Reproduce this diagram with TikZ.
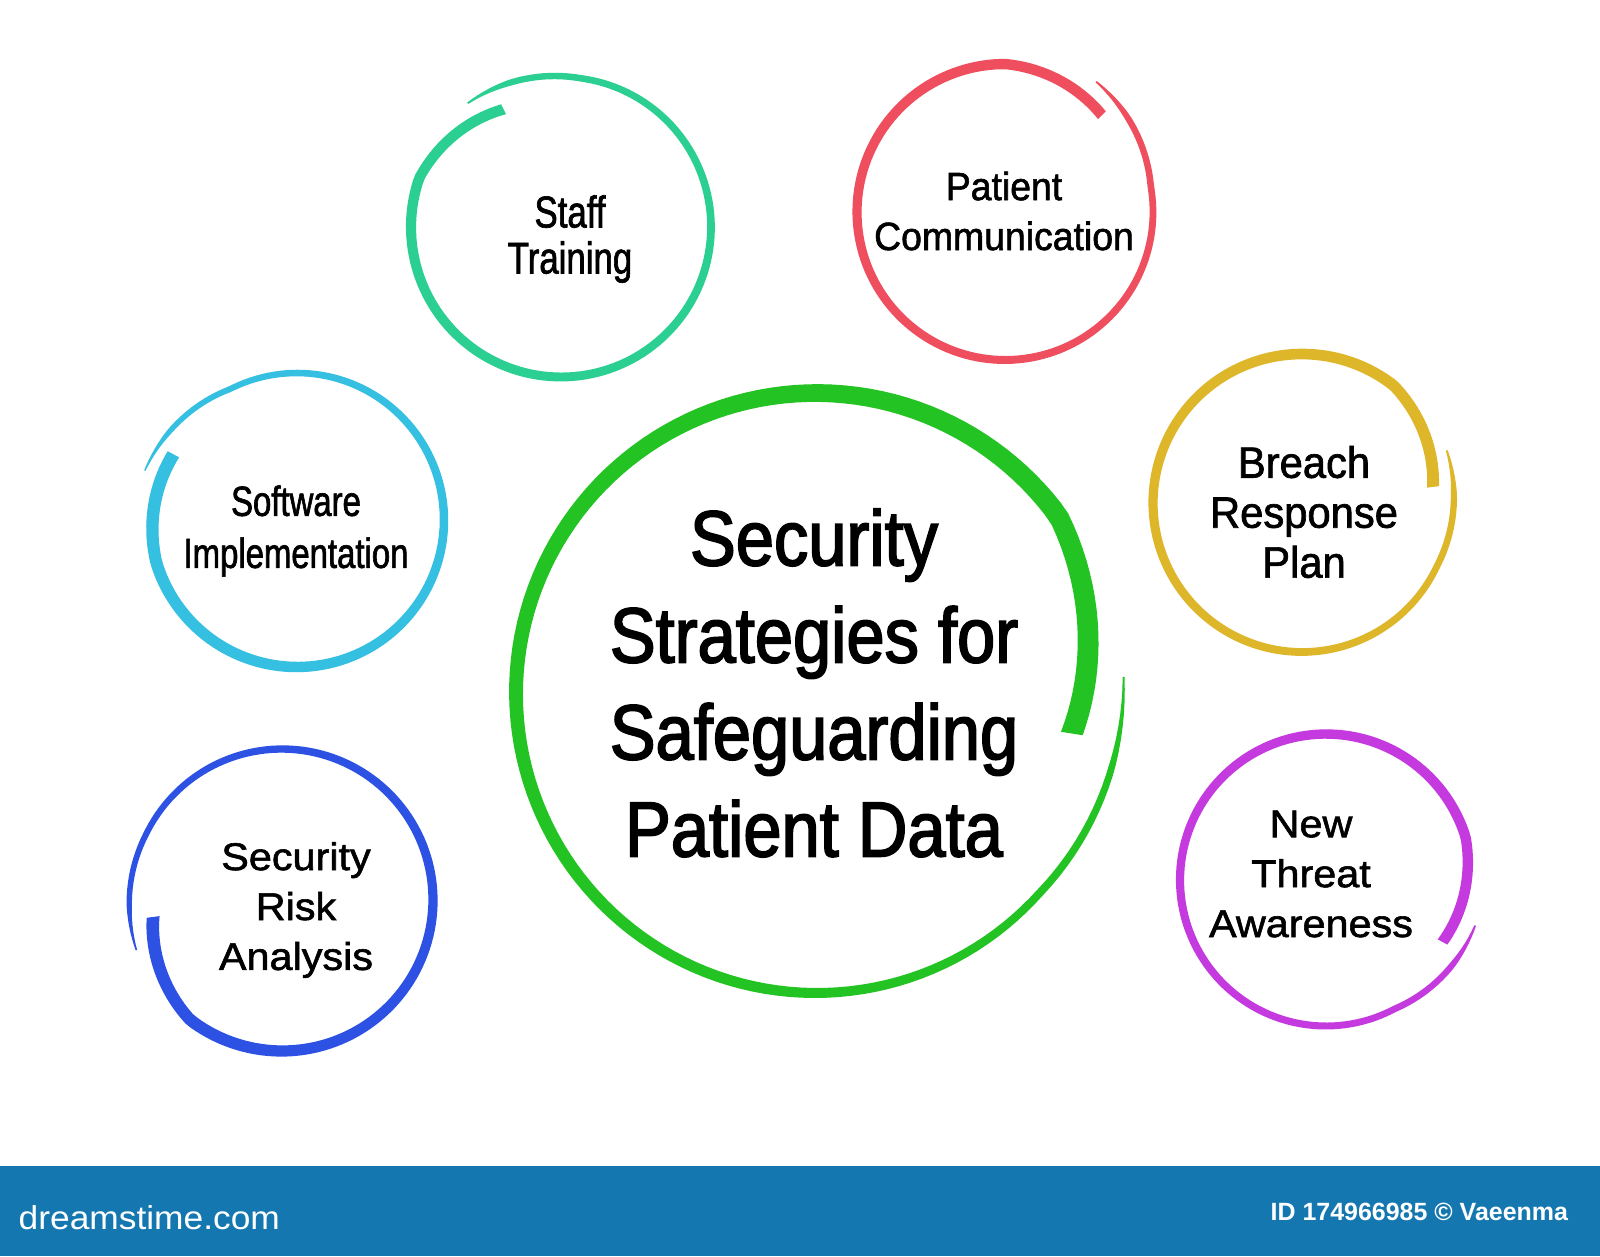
\documentclass[tikz,border=0pt]{standalone}
\usepackage{fontspec}
\setmainfont{Liberation Sans}
\newfontfamily\ssnarrow[FakeStretch=0.78, FakeBold=1.5]{Liberation Sans}
\newfontfamily\sstitlefont[FakeStretch=0.88, FakeBold=2.2]{Liberation Sans}
\newfontfamily\ssplain[FakeStretch=0.95, FakeBold=1.5]{Liberation Sans}
\newfontfamily\sswide[FakeStretch=1.07, FakeBold=1.5]{Liberation Sans}
\newfontfamily\sslogo[FakeStretch=1.07]{Liberation Sans}
\definecolor{ssGreen}{HTML}{22C322}
\definecolor{ssTeal}{HTML}{2BCF92}
\definecolor{ssRed}{HTML}{EE4E5E}
\definecolor{ssCyan}{HTML}{35C0E2}
\definecolor{ssGold}{HTML}{DDB62A}
\definecolor{ssBlue}{HTML}{2D52E3}
\definecolor{ssMagenta}{HTML}{C43ADF}
\definecolor{ssBar}{HTML}{1477B0}
\tikzset{
  ring radius/.store in=\ssR,
  ring start/.store in=\ssA,
  ring lap/.store in=\ssLap,
  ring out/.store in=\ssOut,
  ring in/.store in=\ssIn,
  ring width/.code 2 args={\def\ssWa{#1}\def\ssWb{#2}},
  declare function={
    ssrad(\x)=\ssR+\ssOut*max(0,1-\x/45)-\ssIn*max(0,1-(\ssL-\x)/45);
    sswid(\x)=(\ssWa+(\ssWb-\ssWa)*\x/\ssL)*min(1,0.3+\x/25);
  },
  ssring/.pic={
    \pgfmathsetmacro\ssL{360+\ssLap}
    \fill[pic actions] plot[domain=0:\ssL, samples=160]
        ({(ssrad(\x)+sswid(\x)/2)*cos(\ssA-\x)}, {(ssrad(\x)+sswid(\x)/2)*sin(\ssA-\x)})
      -- plot[domain=\ssL:0, samples=160]
        ({(ssrad(\x)-sswid(\x)/2)*cos(\ssA-\x)}, {(ssrad(\x)-sswid(\x)/2)*sin(\ssA-\x)})
      -- cycle;
  },
  sslabel/.style={align=center, inner sep=0pt, text=black},
  ssbrand/.style={anchor=base west, inner sep=0pt, text=white}
}

\begin{document}
\begin{tikzpicture}
  \fill[white] (0,0) rectangle (16,-12.56);
  \useasboundingbox (0,0) rectangle (16,-12.56);

  \pic[fill=ssGreen, ring radius=3.00, ring start=3, ring lap=12, ring out=0.08, ring in=0.41, ring width={0.06}{0.22}] at (8.16,-6.93) {ssring};
  \pic[fill=ssTeal, ring radius=1.50, ring start=127, ring lap=11, ring out=0.05, ring in=0.19, ring width={0.06}{0.11}] at (5.61,-2.27) {ssring};
  \pic[fill=ssRed, ring radius=1.48, ring start=55, ring lap=10, ring out=0.11, ring in=0.11, ring width={0.06}{0.11}] at (10.05,-2.12) {ssring};
  \pic[fill=ssCyan, ring radius=1.47, ring start=162, ring lap=10, ring out=0.13, ring in=0.07, ring width={0.05}{0.13}] at (2.97,-5.20) {ssring};
  \pic[fill=ssGold, ring radius=1.49, ring start=20, ring lap=13, ring out=0.05, ring in=0.17, ring width={0.06}{0.12}] at (13.02,-5.03) {ssring};
  \pic[fill=ssBlue, ring radius=1.51, ring start=199, ring lap=11.5, ring out=0.03, ring in=0.21, ring width={0.05}{0.13}] at (2.82,-9.00) {ssring};
  \pic[fill=ssMagenta, ring radius=1.46, ring start=-17, ring lap=11, ring out=0.10, ring in=0.14, ring width={0.06}{0.11}] at (13.26,-8.80) {ssring};

  \node[sslabel, font=\sstitlefont\fontsize{22.2}{27.6}\selectfont] (title) at (8.14,-6.83) {Security\\Strategies for\\Safeguarding\\Patient Data};
  \node[sslabel, font=\ssnarrow\fontsize{12.7}{13.1}\selectfont] (training) at (5.70,-2.39) {Staff\\Training};
  \node[sslabel, font=\ssplain\fontsize{11.2}{14.2}\selectfont] (communication) at (10.04,-2.11) {Patient\\Communication};
  \node[sslabel, font=\ssnarrow\fontsize{12}{14.8}\selectfont] (software) at (2.96,-5.31) {Software\\Implementation};
  \node[sslabel, font=\ssplain\fontsize{12.5}{14.2}\selectfont] (breach) at (13.04,-5.12) {Breach\\Response\\Plan};
  \node[sslabel, font=\sswide\fontsize{11}{14.2}\selectfont] (risk) at (2.96,-9.10) {Security\\Risk\\Analysis};
  \node[sslabel, font=\sswide\fontsize{11}{14.2}\selectfont] (threat) at (13.11,-8.74) {New\\Threat\\Awareness};

  \fill[ssBar] (0,-11.66) rectangle (16,-12.56);
  \node[ssbrand, font=\sslogo\fontsize{9.4}{11}\selectfont] (logo) at (0.18,-12.29) {dreamstime.com};
  \node[ssbrand, font=\bfseries\fontsize{7.1}{8.5}\selectfont] (credit) at (12.70,-12.20) {ID 174966985 © Vaeenma};
\end{tikzpicture}
\end{document}
